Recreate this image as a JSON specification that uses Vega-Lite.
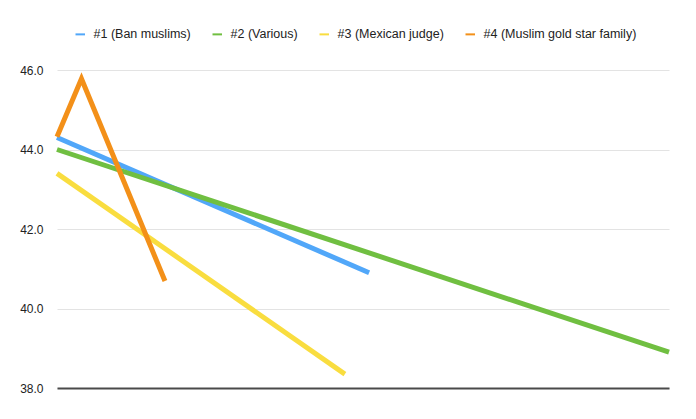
{
  "$schema": "https://vega.github.io/schema/vega-lite/v6.json",
  "width": 612,
  "height": 318,
  "autosize": "none",
  "padding": {"left": 57, "top": 70, "right": 27, "bottom": 31},
  "background": "white",
  "config": {
    "view": {"stroke": null},
    "font": "Liberation Sans"
  },
  "data": {
    "values": [
      {"series": "#1 (Ban muslims)", "x": 0, "y": 44.3},
      {"series": "#1 (Ban muslims)", "x": 12.75, "y": 40.9},
      {"series": "#2 (Various)", "x": 0, "y": 44.0},
      {"series": "#2 (Various)", "x": 25, "y": 38.9},
      {"series": "#3 (Mexican judge)", "x": 0, "y": 43.4},
      {"series": "#3 (Mexican judge)", "x": 11.76, "y": 38.35},
      {"series": "#4 (Muslim gold star family)", "x": 0, "y": 44.32},
      {"series": "#4 (Muslim gold star family)", "x": 1, "y": 45.78},
      {"series": "#4 (Muslim gold star family)", "x": 4.41, "y": 40.69}
    ]
  },
  "mark": {"type": "line", "strokeWidth": 5, "strokeCap": "butt", "strokeJoin": "miter"},
  "encoding": {
    "x": {
      "field": "x",
      "type": "quantitative",
      "scale": {"domain": [0, 25], "nice": false, "zero": false},
      "axis": {
        "title": null,
        "labels": false,
        "ticks": false,
        "grid": false,
        "domain": true,
        "domainColor": "#4a4a4a",
        "domainWidth": 2
      }
    },
    "y": {
      "field": "y",
      "type": "quantitative",
      "scale": {"domain": [38, 46], "nice": false, "zero": false},
      "axis": {
        "title": null,
        "values": [38, 40, 42, 44, 46],
        "format": ".1f",
        "domain": false,
        "ticks": false,
        "labelPadding": 14,
        "labelFontSize": 12,
        "labelColor": "#222222",
        "gridColor": "#e3e3e3",
        "gridWidth": 1
      }
    },
    "color": {
      "field": "series",
      "type": "nominal",
      "scale": {
        "domain": ["#1 (Ban muslims)", "#2 (Various)", "#3 (Mexican judge)", "#4 (Muslim gold star family)"],
        "range": ["#51A7F9", "#70BF41", "#F9DD3F", "#F39019"]
      },
      "legend": {
        "title": null,
        "orient": "none",
        "direction": "horizontal",
        "legendX": 17,
        "legendY": -42,
        "symbolType": "stroke",
        "symbolSize": 90,
        "symbolStrokeWidth": 2,
        "labelFontSize": 12.5,
        "labelColor": "#222222",
        "labelOffset": 7,
        "columnPadding": 17
      }
    }
  }
}
